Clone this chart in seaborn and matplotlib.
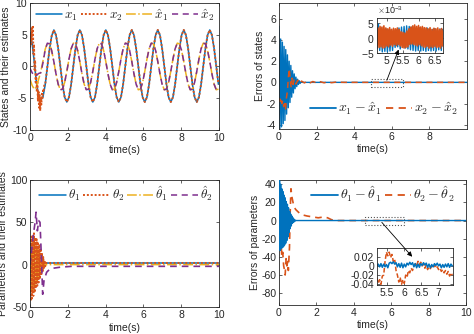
import numpy as np
import matplotlib
matplotlib.use("Agg")
import matplotlib.pyplot as plt
import seaborn as sns
from matplotlib.lines import Line2D
from matplotlib.patches import Rectangle, ConnectionPatch
from matplotlib.ticker import FuncFormatter

# ------------------------------------------------------------------ data
# Panel 1: states and their estimates (sampled every DT1 seconds)
DT1 = 0.1146
x1_vals = [5.3, 3.6, 0.6, -2.6, -4.6, -5.3, -4.8, -2.9, -0.1, 2.7, 4.8,
           5.75, 4.95, 2.85, 0.05, -2.8, -4.85, -5.6, -4.85, -2.8, 0.05, 2.85, 4.95,
           5.75, 4.95, 2.85, 0.05, -2.8, -4.85, -5.6, -4.85, -2.8, 0.05, 2.85, 4.95,
           5.75, 4.95, 2.85, 0.05, -2.8, -4.85, -5.6, -4.85, -2.8, 0.05, 2.85, 4.95,
           5.75, 4.95, 2.85, 0.05, -2.8, -4.85, -5.6, -4.85, -2.8, 0.05, 2.85, 4.95,
           5.75, 4.95, 2.85, 0.05, -2.8, -4.85, -5.6, -4.85, -2.8, 0.05, 2.85, 4.95,
           5.75, 4.95, 2.85, 0.05, -2.8, -4.85, -5.6, -4.85, -2.8, 0.05, 2.85, 4.95,
           5.75, 4.95, 2.85, 0.05, -2.8]
x2_start_t = [0.00, 0.03, 0.06, 0.09, 0.12, 0.15, 0.18, 0.21, 0.24, 0.27, 0.30, 0.33, 0.36,
              0.39, 0.42, 0.45, 0.48, 0.51, 0.54, 0.57, 0.60, 0.63, 0.66, 0.69, 0.72, 0.75]
x2_start = [3.0, 5.2, 3.5, 6.0, 4.0, 6.5, 2.0, 3.5, -0.5, 1.0, -2.5, -1.0, -4.0,
            -2.5, -5.5, -3.8, -6.5, -4.5, -7.0, -5.0, -6.0, -4.3, -5.0, -3.8, -4.0, -3.0]
xh1_vals = [-2.0, -3.0, -3.6, -3.2, -2.0, -0.8, 0.9, 2.7,
            3.67, 3.57, 2.51, 0.78, -1.16, -2.79, -3.67, -3.57, -2.51, -0.78, 1.16, 2.79,
            3.67, 3.57, 2.51, 0.78, -1.16, -2.79, -3.67, -3.57, -2.51, -0.78, 1.16, 2.79,
            3.67, 3.57, 2.51, 0.78, -1.16, -2.79, -3.67, -3.57, -2.51, -0.78, 1.16, 2.79,
            3.67, 3.57, 2.51, 0.78, -1.16, -2.79, -3.67, -3.57, -2.51, -0.78, 1.16, 2.79,
            3.67, 3.57, 2.51, 0.78, -1.16, -2.79, -3.67, -3.57, -2.51, -0.78, 1.16, 2.79,
            3.67, 3.57, 2.51, 0.78, -1.16, -2.79, -3.67, -3.57, -2.51, -0.78, 1.16, 2.79,
            3.67, 3.57, 2.51, 0.78, -1.16, -2.79, -3.67, -3.57]
xh2_start = [-0.3, -1.0, -1.5, -1.4, -1.1, -1.0, 0.6, 2.6]

# Panel 2: errors of states
e1_dt = 0.045
e1_vals = [5.3, -4.4, 4.1, -4.2, 3.8, -3.9, 3.4, -3.6, 3.1, -3.0, 2.6, -2.4, 2.0, -1.9,
           1.6, -1.4, 1.1, -1.0, 0.8, -0.6, 0.5, -0.4, 0.3, -0.2, 0.15, -0.1, 0.05, 0.0]
e2_t = [0, 0.05, 0.1, 0.15, 0.2, 0.25, 0.3, 0.35, 0.4, 0.45, 0.5, 0.55, 0.6, 0.65, 0.7,
        0.75, 0.8, 0.9, 1.0, 1.1, 1.2, 1.35, 1.5, 1.65, 1.8, 2.0, 2.2, 2.4, 2.6, 2.8,
        3.0, 3.5, 10]
e2_vals = [-1.5, -1.8, -1.4, -2.0, -1.7, -2.3, -2.0, -2.5, -1.4, -0.8, 0.5, 1.3, 0.2,
           -0.5, 0.4, -0.2, 0.3, -0.15, 0.2, -0.1, 0.12, -0.05, 0.1, -0.05, 0.08, -0.05,
           0.06, -0.04, 0.05, -0.03, 0.02, 0, 0]
# inset (units of 1e-3)
ins_e1_vals = [-3.5, 4.8, -4.0, 3.5, -4.5, 3.0, -4.3, 3.2, -4.5, 2.8,
               -4.2, 3.0, -4.0, 2.5, -3.0, 2.8, -2.8, 3.5, -3.5, 3.8,
               -3.0, 4.0, -3.2, 4.2, -3.5, 4.0, -3.8, 3.8, -4.0, 3.5,
               -4.2, 3.3, -4.0, 3.5, -4.2, 3.2, -4.0, 3.4, -4.3, 3.5,
               -4.0, 3.2, -4.2, 3.0, -4.0, 3.3, -4.2, 3.0, -3.8, 3.2,
               -4.0, 3.0, -3.5]
ins_e2_vals = [-2.5, 3.5, -3.0, 4.0, -2.8, 3.8, -3.2, 4.2, -3.0, 3.5,
               -2.5, 3.2, -2.8, 3.6, -2.2, 3.0, -2.6, 3.4, -2.0, 3.2,
               -2.4, 3.5, -2.0, 3.0, -2.5, 2.2, -3.0, 2.0, -3.2, 1.8,
               -3.0, 2.5, -2.8, 3.2, -2.0, 3.8, -1.8, 4.2, -2.0, 4.5,
               -2.2, 4.0, -2.5, 4.3, -2.0, 3.8, -2.4, 4.0, -2.8, 3.6,
               -3.0, 3.5, -2.6, 3.2, -3.2, 3.6, -2.8, 3.0, -3.0, 3.4,
               -2.6, 3.2, -3.0, 3.5, -2.8, 3.0, -3.2, 3.3, -2.5, 2.8]

# Panel 3: parameters and their estimates
th_dt = 0.035
th2_vals = [30, -43, 33, -40, 35, -37, 37, -33, 32, -28, 30, -25, 27, -21, 24, -17,
            19, -13, 14, -9, 9, -5, 5, -2, 2]
thh1_vals = [0, -30, 25, -32, 28, -30, 27, -26, 24, -22, 22, -19, 19, -16, 16, -12,
             12, -9, 9, -6, 6, -3, 3, -1, 0]
thh2_t = [0, 0.1, 0.18, 0.27, 0.32, 0.39, 0.46, 0.53, 0.58, 0.64, 0.67, 0.74, 0.88,
          1.06, 1.3, 1.6, 2.2, 3.0, 10]
thh2_vals = [0, 20, 36, 50, 62, 40, 52, 50, 21, -15, -35, -19, -9, -5, -4, -3, -2,
             -2, -2]
th1_level = 2.0

# Panel 4: errors of parameters
ep_dt = 0.03
ep1_vals = [0, 44, -33, 40, -31, 35, -30, 32, -29, 28, -27, 25, -25, 21, -22, 18, -18,
            14, -13, 10, -9, 7, -6, 5, -3, 3, -2, 1.5, -1, 0.5, 0]
ep2_t = [0, 0.05, 0.1, 0.15, 0.2, 0.25, 0.3, 0.33, 0.38, 0.42, 0.47, 0.5, 0.56, 0.6,
         0.64, 0.7, 0.8, 0.9, 1.0, 1.1, 1.3, 1.5, 1.8, 2.1, 2.4, 2.6, 2.8, 3.0, 10]
ep2_vals = [-25, -30, -20, -40, -35, -50, -55, -60, -42, -50, -45, -55, -30, 10, 35,
            25, 15, 12, 10, 8, 6, 5, 4, 3, 4, 3, 1, 0, 0]
ins_ep1_vals = [0.000, 0.004, -0.002, 0.005, -0.003, 0.004, -0.002, 0.003, -0.004, 0.006,
                0.008, 0.005, 0.009, 0.004, 0.007, -0.002, 0.005, -0.003, 0.006, -0.004,
                0.004, -0.002, 0.006, 0.002, 0.008, 0.003, 0.007, -0.002, 0.005, -0.004,
                0.004, -0.003, 0.005, 0.001, 0.007, 0.002, 0.006, -0.003, 0.004, -0.004,
                0.003, -0.002, 0.005, 0.001, 0.006, 0.000, 0.004, -0.004, 0.003, -0.003,
                0.004, -0.002, 0.005, -0.003, 0.004, 0.000]
ins_ep2_vals = [-0.025, -0.038, -0.030, -0.040, -0.022, -0.020, 0.010, 0.030, 0.022, 0.030,
                0.018, 0.025, 0.010, 0.015, -0.010, -0.020, -0.035, -0.025, -0.040, -0.030,
                -0.038, -0.020, -0.025, -0.010, -0.015, -0.005, -0.010, 0.000, 0.005, 0.000,
                0.010, 0.003, 0.008, 0.000, 0.005, -0.005, 0.002, -0.008, -0.002, -0.006,
                0.000, -0.004, 0.002, -0.005, -0.002, -0.008, -0.005, -0.012, -0.008, -0.015,
                -0.010, -0.018, -0.012, -0.022, -0.015, -0.020]

# ------------------------------------------------------------------ style
sns.set_style("ticks")
plt.rcParams.update({
    "font.family": ["Liberation Sans", "DejaVu Sans"],
    "mathtext.fontset": "cm",
    "axes.unicode_minus": False,
    "axes.edgecolor": "#262626",
    "axes.linewidth": 0.6,
    "xtick.color": "#262626",
    "ytick.color": "#262626",
    "xtick.labelsize": 7.5,
    "ytick.labelsize": 7.5,
    "xtick.major.size": 2.5,
    "ytick.major.size": 2.5,
    "xtick.major.width": 0.5,
    "ytick.major.width": 0.5,
})

BLUE, RED, YEL, PUR = "#0072BD", "#D95319", "#EDB120", "#7E2F8E"
TXT = "#262626"
LW = 1.1
DOT = (0, (1, 1))
DASH = (0, (4, 3))

fig = plt.figure(figsize=(4.74, 3.34), dpi=100)
ax1 = fig.add_axes([0.0633, 0.611, 0.3987, 0.380])
ax2 = fig.add_axes([0.5886, 0.614, 0.3964, 0.377])
ax3 = fig.add_axes([0.0633, 0.081, 0.3987, 0.380])
ax4 = fig.add_axes([0.5886, 0.087, 0.3944, 0.375])


def line(ax, t, v, color, ls="-", lw=LW, z=2):
    sns.lineplot(x=np.asarray(t, float), y=np.asarray(v, float), ax=ax, color=color,
                 linestyle=ls, linewidth=lw, sort=False, estimator=None, legend=False,
                 zorder=z)


def style(ax, xlabel, ylabel):
    ax.tick_params(direction="in", top=True, right=True, pad=2)
    for s in ax.spines.values():
        s.set_visible(True)
        s.set_color(TXT)
    ax.set_xlabel(xlabel, fontsize=7.5, color=TXT, labelpad=2)
    ax.set_ylabel(ylabel, fontsize=7.5, color=TXT, labelpad=1)


def legend4(ax, handles, labels, cx, cy):
    ax.legend(handles, labels, ncol=len(handles), loc="center", bbox_to_anchor=(cx, cy),
              frameon=False, fontsize=9.5, handlelength=2.0, handletextpad=0.15,
              columnspacing=0.25, borderaxespad=0, borderpad=0)


fmt = FuncFormatter(lambda v, p: "%g" % v)

# ---- panel 1
tg = np.round(np.arange(len(x1_vals)) * DT1, 4)
x2_t = np.concatenate([x2_start_t, tg[7:]])
x2_v = np.concatenate([x2_start, np.asarray(x1_vals)[7:]])
xh2_vals = xh2_start + xh1_vals[len(xh2_start):]
line(ax1, tg, x1_vals, BLUE, "-")
line(ax1, x2_t, x2_v, RED, DOT, lw=1.4)
line(ax1, tg, xh1_vals, YEL, "-.")
line(ax1, tg, xh2_vals, PUR, DASH)
ax1.set_xlim(0, 10)
ax1.set_ylim(-10, 10)
ax1.set_xticks([0, 2, 4, 6, 8, 10])
ax1.set_yticks([-10, -5, 0, 5, 10])
ax1.xaxis.set_major_formatter(fmt)
ax1.yaxis.set_major_formatter(fmt)
style(ax1, "time(s)", "States and their estimates")
h1 = [Line2D([], [], color=BLUE, lw=LW),
      Line2D([], [], color=RED, lw=1.4, ls=DOT),
      Line2D([], [], color=YEL, lw=LW, ls="-."),
      Line2D([], [], color=PUR, lw=LW, ls=DASH)]
legend4(ax1, h1, [r"$x_1$", r"$x_2$", r"$\hat{x}_1$", r"$\hat{x}_2$"], 0.503, 0.905)

# ---- panel 2
t_e1 = np.round(np.arange(len(e1_vals)) * e1_dt, 4)
line(ax2, np.append(t_e1, 10), np.append(e1_vals, 0), BLUE, "-", lw=1.0)
line(ax2, e2_t, e2_vals, RED, DASH, lw=1.1)
ax2.set_xlim(0, 10)
ax2.set_ylim(-4.4, 7.5)
ax2.set_xticks([0, 2, 4, 6, 8])
ax2.set_yticks([-4, -2, 0, 2, 4, 6])
ax2.xaxis.set_major_formatter(fmt)
ax2.yaxis.set_major_formatter(fmt)
style(ax2, "time(s)", "Errors of states")
h2 = [Line2D([], [], color=BLUE, lw=1.3), Line2D([], [], color=RED, lw=1.3, ls=DASH)]
ax2.legend(h2, [r"$x_1-\hat{x}_1$", r"$x_2-\hat{x}_2$"], ncol=2, loc="center",
           bbox_to_anchor=(0.56, 0.155), frameon=False, fontsize=10, handlelength=1.9,
           handletextpad=0.15, columnspacing=0.25, borderaxespad=0, borderpad=0)
ax2.add_patch(Rectangle((4.9, -0.4), 1.7, 0.7, fill=False, ls=":", lw=0.8,
                        ec="#555555", zorder=3))

ins2 = fig.add_axes([0.795, 0.840, 0.140, 0.105])
t_i1 = np.round(4.70 + np.arange(len(ins_e1_vals)) * 0.04, 4)
t_i2 = np.round(4.70 + np.arange(len(ins_e2_vals)) * 0.03, 4)
line(ins2, t_i1, np.asarray(ins_e1_vals) * 1e-3, BLUE, "-", lw=1.0)
line(ins2, t_i2, np.asarray(ins_e2_vals) * 1e-3, RED, "-", lw=1.2)
ins2.set_xlim(4.69, 6.76)
ins2.set_ylim(-5e-3, 6.7e-3)
ins2.set_xticks([5, 5.5, 6, 6.5])
ins2.set_yticks([-5e-3, 0, 5e-3])
ins2.xaxis.set_major_formatter(fmt)
ins2.ticklabel_format(axis="y", style="sci", scilimits=(0, 0), useMathText=True)
ins2.yaxis.get_offset_text().set_fontsize(6.5)
ins2.tick_params(direction="in", top=True, right=True, pad=2, labelsize=7.5)
for s in ins2.spines.values():
    s.set_visible(True)
    s.set_color(TXT)

# ---- panel 3
t_th = np.round(np.arange(len(th2_vals)) * th_dt, 4)
line(ax3, [0, 10], [th1_level, th1_level], BLUE, "-")
line(ax3, np.append(t_th, 10), np.append(thh1_vals, 0), YEL, "-.")
line(ax3, np.append(t_th, 10), np.append(th2_vals, th1_level), RED, DOT, lw=1.4)
line(ax3, thh2_t, thh2_vals, PUR, DASH, lw=1.2)
ax3.set_xlim(0, 10)
ax3.set_ylim(-50, 100)
ax3.set_xticks([0, 2, 4, 6, 8, 10])
ax3.set_yticks([-50, 0, 50, 100])
ax3.xaxis.set_major_formatter(fmt)
ax3.yaxis.set_major_formatter(fmt)
style(ax3, "time(s)", "Parameters and their estimates")
h3 = [Line2D([], [], color=BLUE, lw=LW),
      Line2D([], [], color=RED, lw=1.4, ls=DOT),
      Line2D([], [], color=YEL, lw=LW, ls="-."),
      Line2D([], [], color=PUR, lw=LW, ls=DASH)]
legend4(ax3, h3, [r"$\theta_1$", r"$\theta_2$", r"$\hat{\theta}_1$", r"$\hat{\theta}_2$"],
        0.508, 0.89)

# ---- panel 4
t_ep = np.round(np.arange(len(ep1_vals)) * ep_dt, 4)
line(ax4, np.append(t_ep, 10), np.append(ep1_vals, 0), BLUE, "-", lw=1.0, z=3)
line(ax4, ep2_t, ep2_vals, RED, DASH, lw=1.2, z=2)
ax4.set_xlim(0, 10)
ax4.set_ylim(-93, 45)
ax4.set_xticks([0, 2, 4, 6, 8, 10])
ax4.set_yticks([-80, -60, -40, -20, 0, 20, 40])
ax4.xaxis.set_major_formatter(fmt)
ax4.yaxis.set_major_formatter(fmt)
style(ax4, "time(s)", "Errors of parameters")
h4 = [Line2D([], [], color=BLUE, lw=1.3), Line2D([], [], color=RED, lw=1.3, ls=DASH)]
ax4.legend(h4, [r"$\theta_1-\hat{\theta}_1$", r"$\theta_2-\hat{\theta}_2$"], ncol=2,
           loc="center", bbox_to_anchor=(0.556, 0.88), frameon=False, fontsize=10,
           handlelength=1.9, handletextpad=0.15, columnspacing=0.25, borderaxespad=0,
           borderpad=0)
ax4.add_patch(Rectangle((4.6, -4.4), 2.07, 8.0, fill=False, ls=":", lw=0.8,
                        ec="#555555", zorder=4))

ins4 = fig.add_axes([0.795, 0.146, 0.160, 0.1115])
t_j = np.round(5.2 + np.arange(len(ins_ep1_vals)) * 0.04, 4)
line(ins4, t_j, ins_ep2_vals, RED, (0, (3, 1.5)), lw=1.1)
line(ins4, t_j, ins_ep1_vals, BLUE, "-", lw=1.1)
ins4.set_xlim(5.2, 7.41)
ins4.set_ylim(-0.042, 0.039)
ins4.set_xticks([5.5, 6, 6.5, 7])
ins4.set_yticks([-0.04, -0.02, 0, 0.02])
ins4.xaxis.set_major_formatter(fmt)
ins4.yaxis.set_major_formatter(fmt)
ins4.tick_params(direction="in", top=True, right=True, pad=2, labelsize=7.5)
for s in ins4.spines.values():
    s.set_visible(True)
    s.set_color(TXT)

# ---- connector arrows
for src_ax, src, dst_ax, dst in [(ax2, (5.74, 0.2), ins2, (5.37, -3.7e-3)),
                                 (ax4, (5.5, -2.0), ins4, (6.23, 0.02))]:
    cp = ConnectionPatch(xyA=src, coordsA=src_ax.transData, xyB=dst,
                         coordsB=dst_ax.transData, arrowstyle="-|>", color="black",
                         lw=0.6, mutation_scale=7, zorder=10)
    fig.add_artist(cp)

fig.savefig("out.png", dpi=100)
